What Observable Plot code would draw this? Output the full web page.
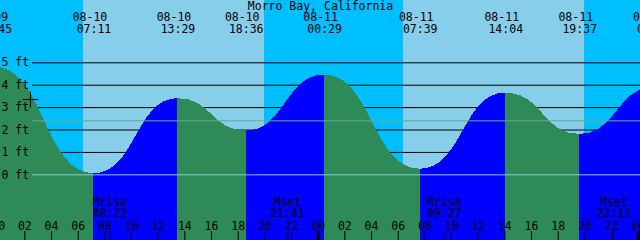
<!DOCTYPE html>
<html>
<head>
<meta charset="utf-8">
<script src="https://cdn.jsdelivr.net/npm/d3@7"></script>
<script src="https://cdn.jsdelivr.net/npm/@observablehq/plot@0.6"></script>
<style>
  html, body { margin: 0; padding: 0; background: #fff; }
  #chart svg { display: block; overflow: hidden; }
</style>
</head>
<body>
<div id="chart"></div>
<script>
// ---- data ----
const title = "Morro Bay, California";

// tide extremes (high / low), times in local station time
const tideTimes = [
  "2024-08-09T23:45Z", "2024-08-10T07:11Z", "2024-08-10T13:29Z", "2024-08-10T18:36Z",
  "2024-08-11T00:29Z", "2024-08-11T07:39Z", "2024-08-11T14:04Z", "2024-08-11T19:37Z",
  "2024-08-12T01:13Z"
];
const tideHeights = [4.8, 0.05, 3.4, 1.95, 4.45, 0.25, 3.65, 1.8, 3.9];

const sunriseTimes = ["2024-08-10T06:24Z", "2024-08-11T06:24Z"];
const sunsetTimes  = ["2024-08-10T19:58Z", "2024-08-11T19:58Z"];

const moonLabels = ["Mrise", "Mset", "Mrise", "Mset"];
const moonTimes  = ["2024-08-10T08:22Z", "2024-08-10T21:41Z", "2024-08-11T09:27Z", "2024-08-11T22:11Z"];

const levelTicks = [0, 1, 2, 3, 4, 5];
const meanSeaLevel = 2.41;

const markTime = "2024-08-10T02:25Z";
const markLevel = 3.36;

const viewStart = "2024-08-10T00:10:21Z";
const viewEnd   = "2024-08-12T00:10:21Z";
const levelMin = -2.93, levelMax = 7.78;

// ---- colours ----
const NIGHT = "#00bfff", DAY = "#87ceeb";
const FALLING = "#2e8b57", RISING = "#0000ff";
const MSL_COLOR = "#64aa96", DATUM_COLOR = "#90cae4";

// ---- derived tables ----
const T = s => new Date(s);
const t0 = T(viewStart), t1 = T(viewEnd);

const tides = tideTimes.map((s, i) => ({time: T(s), h: tideHeights[i]}));
const segRows = [];
for (let i = 0; i + 1 < tides.length; i++) {
  const color = tides[i + 1].h > tides[i].h ? RISING : FALLING;
  segRows.push({seg: i, time: tides[i].time, h: tides[i].h, color});
  segRows.push({seg: i, time: tides[i + 1].time, h: tides[i + 1].h, color});
}

const sky = [];
{
  let prev = t0;
  sunriseTimes.forEach((sr, i) => {
    sky.push({start: prev, end: T(sr), color: NIGHT});
    sky.push({start: T(sr), end: T(sunsetTimes[i]), color: DAY});
    prev = T(sunsetTimes[i]);
  });
  sky.push({start: prev, end: t1, color: NIGHT});
}

const moon = moonTimes.map((s, i) => ({time: T(s), label: moonLabels[i]}));
const hourTicks = d3.utcHour.every(2).range(T("2024-08-10T00:00Z"), T("2024-08-12T00:01Z"));
const midnights = hourTicks.filter(d => d.getUTCHours() === 0);
const evenHours = hourTicks.filter(d => d.getUTCHours() !== 0);

const fmtDate = d3.utcFormat("%m-%d");
const fmtTime = d3.utcFormat("%H:%M");
const fmtHour = d3.utcFormat("%H");

const FS = 11.5;

const chart = Plot.plot({
  width: 640,
  height: 240,
  margin: 0,
  x: {type: "utc", domain: [t0, t1], axis: null},
  y: {domain: [levelMin, levelMax], axis: null},
  color: {type: "identity"},
  style: {background: "none", fontFamily: "'DejaVu Sans Mono', monospace", fontSize: FS + "px", color: "black"},
  marks: [
    // sky: night / day
    Plot.rect(sky, {x1: "start", x2: "end", fill: "color", shapeRendering: "crispEdges"}),
    // level grid lines (behind the water)
    Plot.ruleY(levelTicks.filter(d => d > 0), {insetLeft: 32, stroke: "black", strokeWidth: 1}),
    // water: falling green, rising blue
    Plot.area(segRows, {
      x1: "time", y1: () => levelMin, y2: "h", z: "seg", fill: "color",
      curve: "bump-x", shapeRendering: "crispEdges"
    }),
    // datum and mean sea level lines
    Plot.ruleY([0], {insetLeft: 32, stroke: DATUM_COLOR, strokeWidth: 1}),
    Plot.ruleY([meanSeaLevel], {insetLeft: 32, stroke: MSL_COLOR, strokeWidth: 1}),
    // level labels
    Plot.text(levelTicks, {y: d => d, text: d => `${d} ft`, frameAnchor: "left", textAnchor: "start", dx: 1, fontSize: FS}),
    // mark
    Plot.dot([0], {x: () => T(markTime), y: () => markLevel, symbol: "plus", r: 5.2, stroke: "black", strokeWidth: 1}),
    // hour ticks + labels
    Plot.ruleX(evenHours, {insetTop: 231, stroke: "black", strokeWidth: 1}),
    Plot.ruleX(midnights, {insetTop: 231, stroke: "black", strokeWidth: 3}),
    Plot.text(hourTicks, {x: d => d, text: d => fmtHour(d), frameAnchor: "bottom", lineAnchor: "middle", dy: -14.5, fontSize: FS}),
    // moon events
    Plot.ruleX(moon, {x: "time", insetTop: 231, stroke: "black", strokeWidth: 1}),
    Plot.text(moon, {x: "time", text: "label", frameAnchor: "bottom", lineAnchor: "middle", dy: -38.3, fontSize: FS}),
    Plot.text(moon, {x: "time", text: d => fmtTime(d.time), frameAnchor: "bottom", lineAnchor: "middle", dy: -26.7, fontSize: FS}),
    // tide labels on top
    Plot.text(tides, {x: "time", text: d => fmtDate(d.time), frameAnchor: "top", lineAnchor: "middle", dy: 16.7, dx: -4, fontSize: FS}),
    Plot.text(tides, {x: "time", text: d => fmtTime(d.time), frameAnchor: "top", lineAnchor: "middle", dy: 29.3, fontSize: FS}),
    // title
    Plot.text([title], {frameAnchor: "top", lineAnchor: "middle", dy: 5.7, fontSize: FS})
  ]
});
document.getElementById("chart").append(chart);
</script>
</body>
</html>
